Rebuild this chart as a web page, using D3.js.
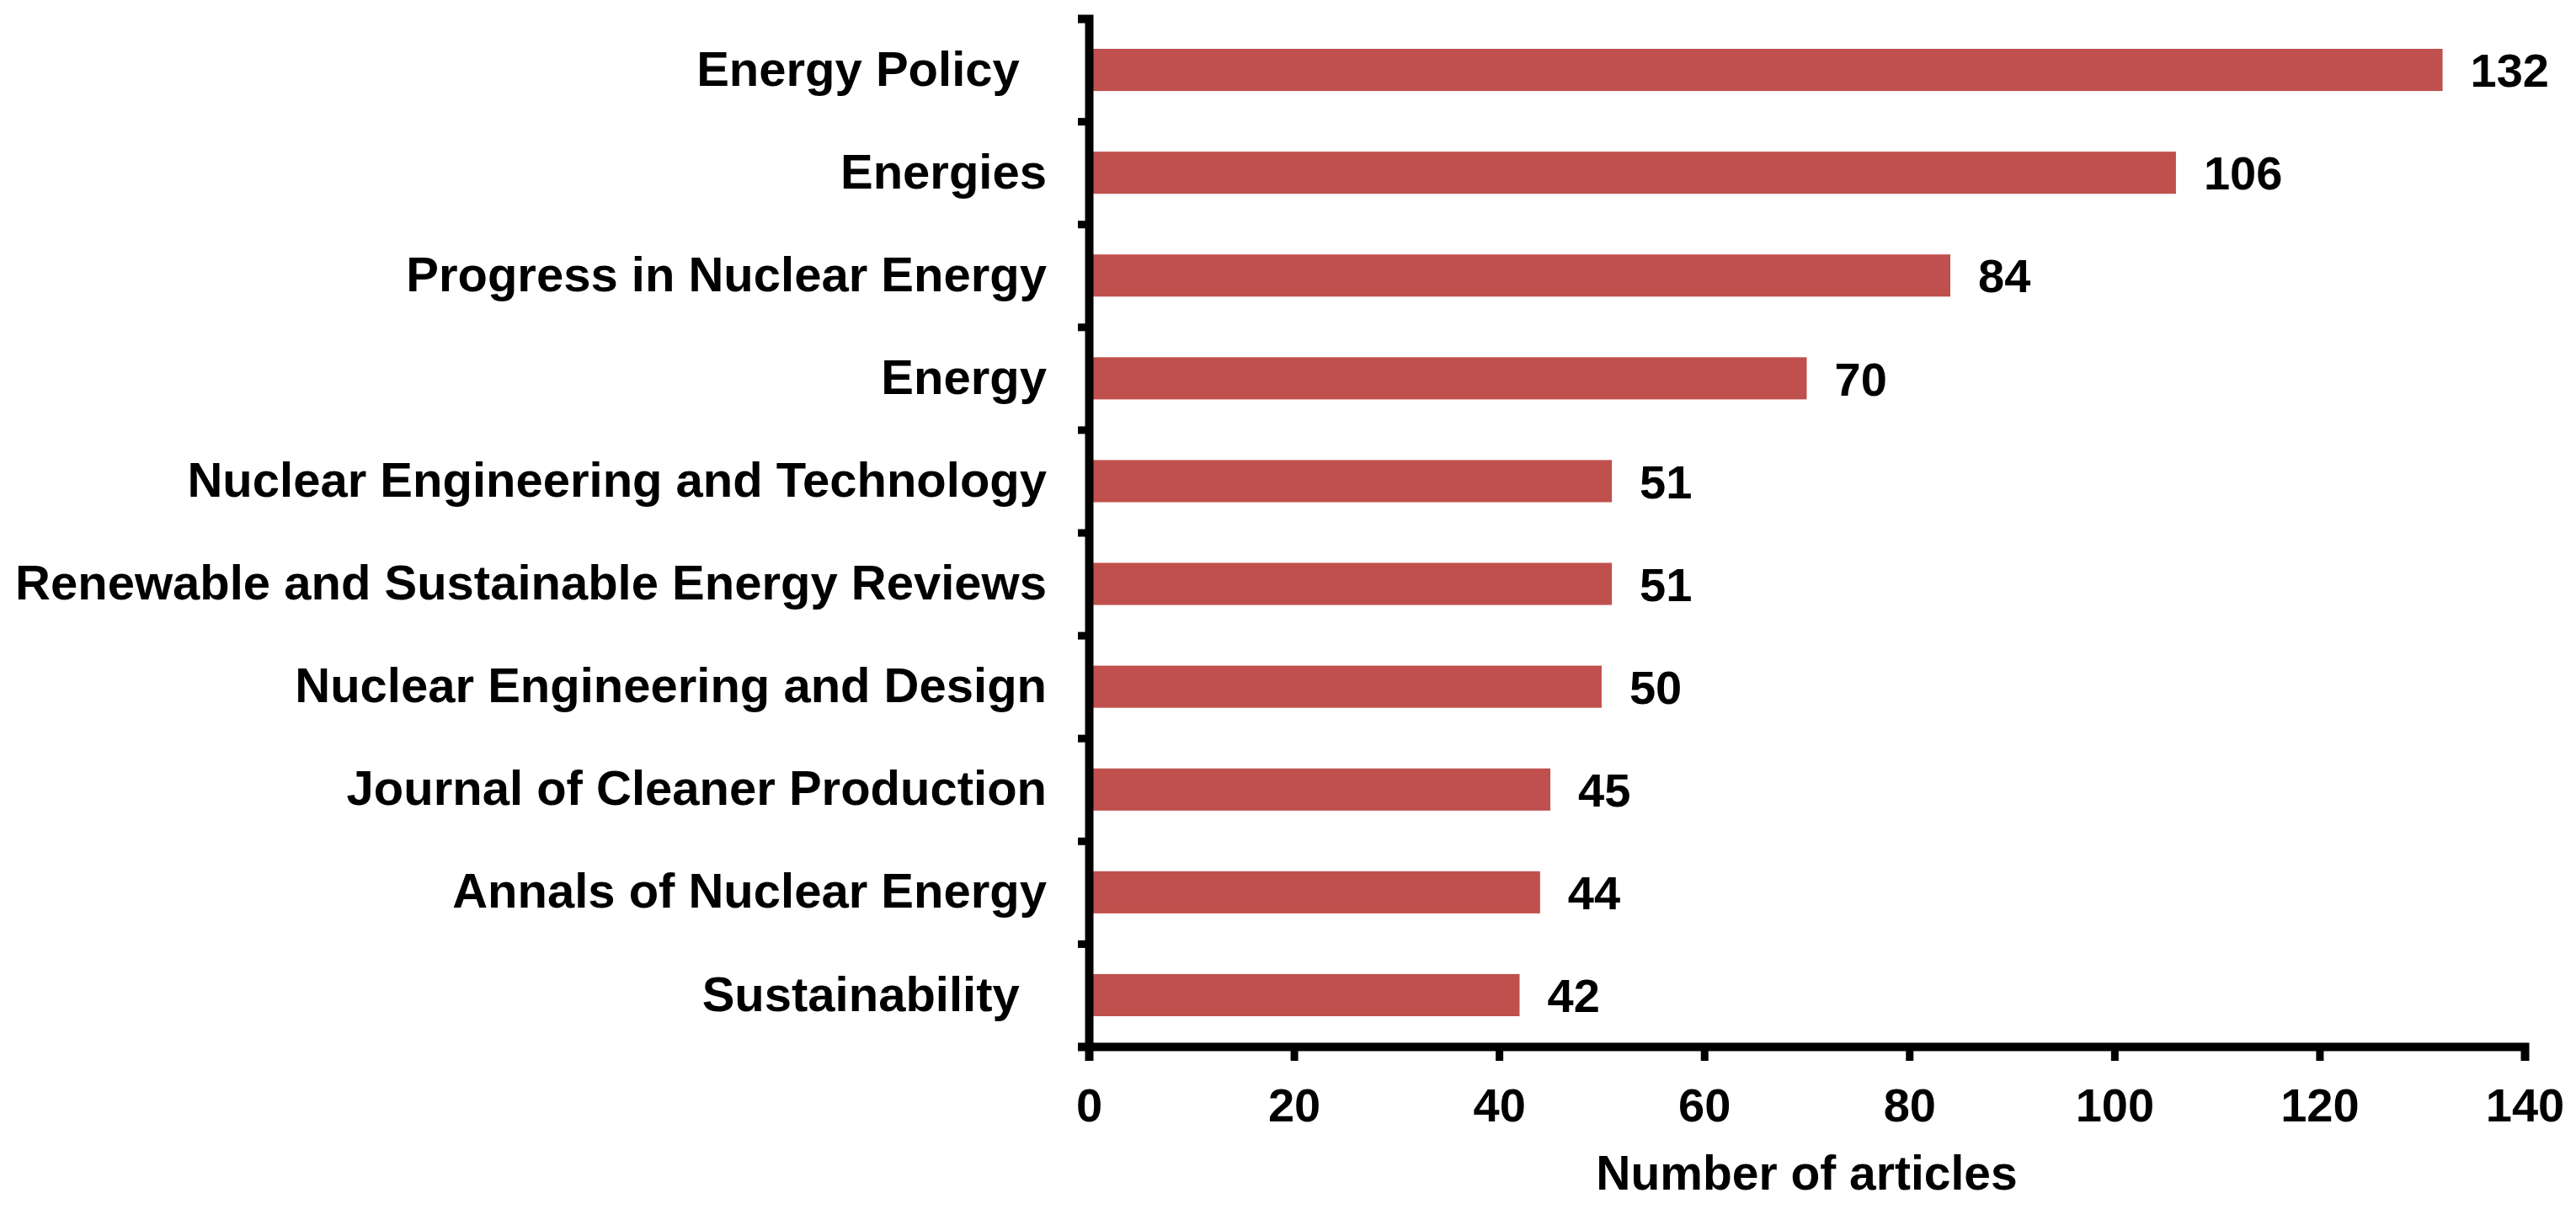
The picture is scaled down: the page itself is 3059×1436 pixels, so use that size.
<!DOCTYPE html>
<html>
<head>
<meta charset="utf-8">
<script src="https://cdn.jsdelivr.net/npm/d3@7/dist/d3.min.js"></script>
<style>
  body { margin: 0; background: #fff; }
  svg { display: block; font-family: "Liberation Sans", Arial, sans-serif; font-weight: bold; }
  text { white-space: pre; }
</style>
</head>
<body>
<div id="chart"></div>
<script>
const journals = [
    "Energy Policy  ",
    "Energies",
    "Progress in Nuclear Energy",
    "Energy",
    "Nuclear Engineering and Technology",
    "Renewable and Sustainable Energy Reviews",
    "Nuclear Engineering and Design",
    "Journal of Cleaner Production",
    "Annals of Nuclear Energy",
    "Sustainability  "
];
const articles = [132, 106, 84, 70, 51, 51, 50, 45, 44, 42];
const xTicks = [0, 20, 40, 60, 80, 100, 120, 140];
const xTitle = "Number of articles";

const width = 3059;
const height = 1436;
const margin = { top: 22, right: 61, bottom: 193, left: 1293 };
const barColor = "#C0504D";

const data = journals.map((name, i) => ({ name, value: articles[i] }));

const svg = d3.select("#chart")
    .append("svg")
    .attr("width", width)
    .attr("height", height);

const x = d3.scaleLinear()
    .domain([0, 140])
    .range([margin.left, width - margin.right]);

const y = d3.scaleBand()
    .domain(journals)
    .range([margin.top, height - margin.bottom])
    .paddingInner(0.59)
    .paddingOuter(0.295);

// boundary ticks between the bands
const yEdges = d3.scaleLinear()
    .domain([0, journals.length])
    .range([margin.top, height - margin.bottom]);

// bars
svg.append("g")
    .selectAll("rect")
    .data(data)
    .join("rect")
    .attr("x", x(0))
    .attr("y", d => y(d.name))
    .attr("width", d => x(d.value) - x(0))
    .attr("height", y.bandwidth())
    .attr("fill", barColor);

// value labels
svg.append("g")
    .selectAll("text")
    .data(data)
    .join("text")
    .attr("x", d => x(d.value) + 33)
    .attr("y", d => y(d.name) + y.bandwidth() / 2)
    .attr("dy", "0.36em")
    .attr("font-size", 56)
    .attr("fill", "#000")
    .text(d => d.value);

// category labels
const yAxis = svg.append("g")
    .attr("transform", `translate(${x(0)},0)`)
    .call(d3.axisLeft(y).tickSize(0).tickPadding(50));
yAxis.select(".domain").remove();
yAxis.selectAll("text")
    .attr("font-size", 58)
    .attr("font-family", "Liberation Sans, Arial, sans-serif")
    .attr("font-weight", "bold")
    .attr("fill", "#000");

// left axis line + band edge ticks
const yEdgeAxis = svg.append("g")
    .attr("transform", `translate(${x(0)},0)`)
    .call(d3.axisLeft(yEdges).ticks(journals.length).tickSize(13).tickSizeOuter(13).tickFormat(""));
yEdgeAxis.select(".domain").attr("stroke", "#000").attr("stroke-width", 10);
yEdgeAxis.selectAll(".tick line").attr("stroke", "#000").attr("stroke-width", 9);

// bottom axis
const xAxis = svg.append("g")
    .attr("transform", `translate(0,${height - margin.bottom})`)
    .call(d3.axisBottom(x).tickValues(xTicks).tickSize(17).tickSizeOuter(17).tickPadding(32));
xAxis.select(".domain").attr("stroke", "#000").attr("stroke-width", 10);
xAxis.selectAll(".tick line").attr("stroke", "#000").attr("stroke-width", 9);
xAxis.selectAll("text")
    .attr("font-size", 56)
    .attr("font-family", "Liberation Sans, Arial, sans-serif")
    .attr("font-weight", "bold")
    .attr("fill", "#000");

// axis title
svg.append("text")
    .attr("x", (x(0) + x(140)) / 2)
    .attr("y", 1413)
    .attr("text-anchor", "middle")
    .attr("font-size", 57)
    .attr("fill", "#000")
    .text(xTitle);
</script>
</body>
</html>
